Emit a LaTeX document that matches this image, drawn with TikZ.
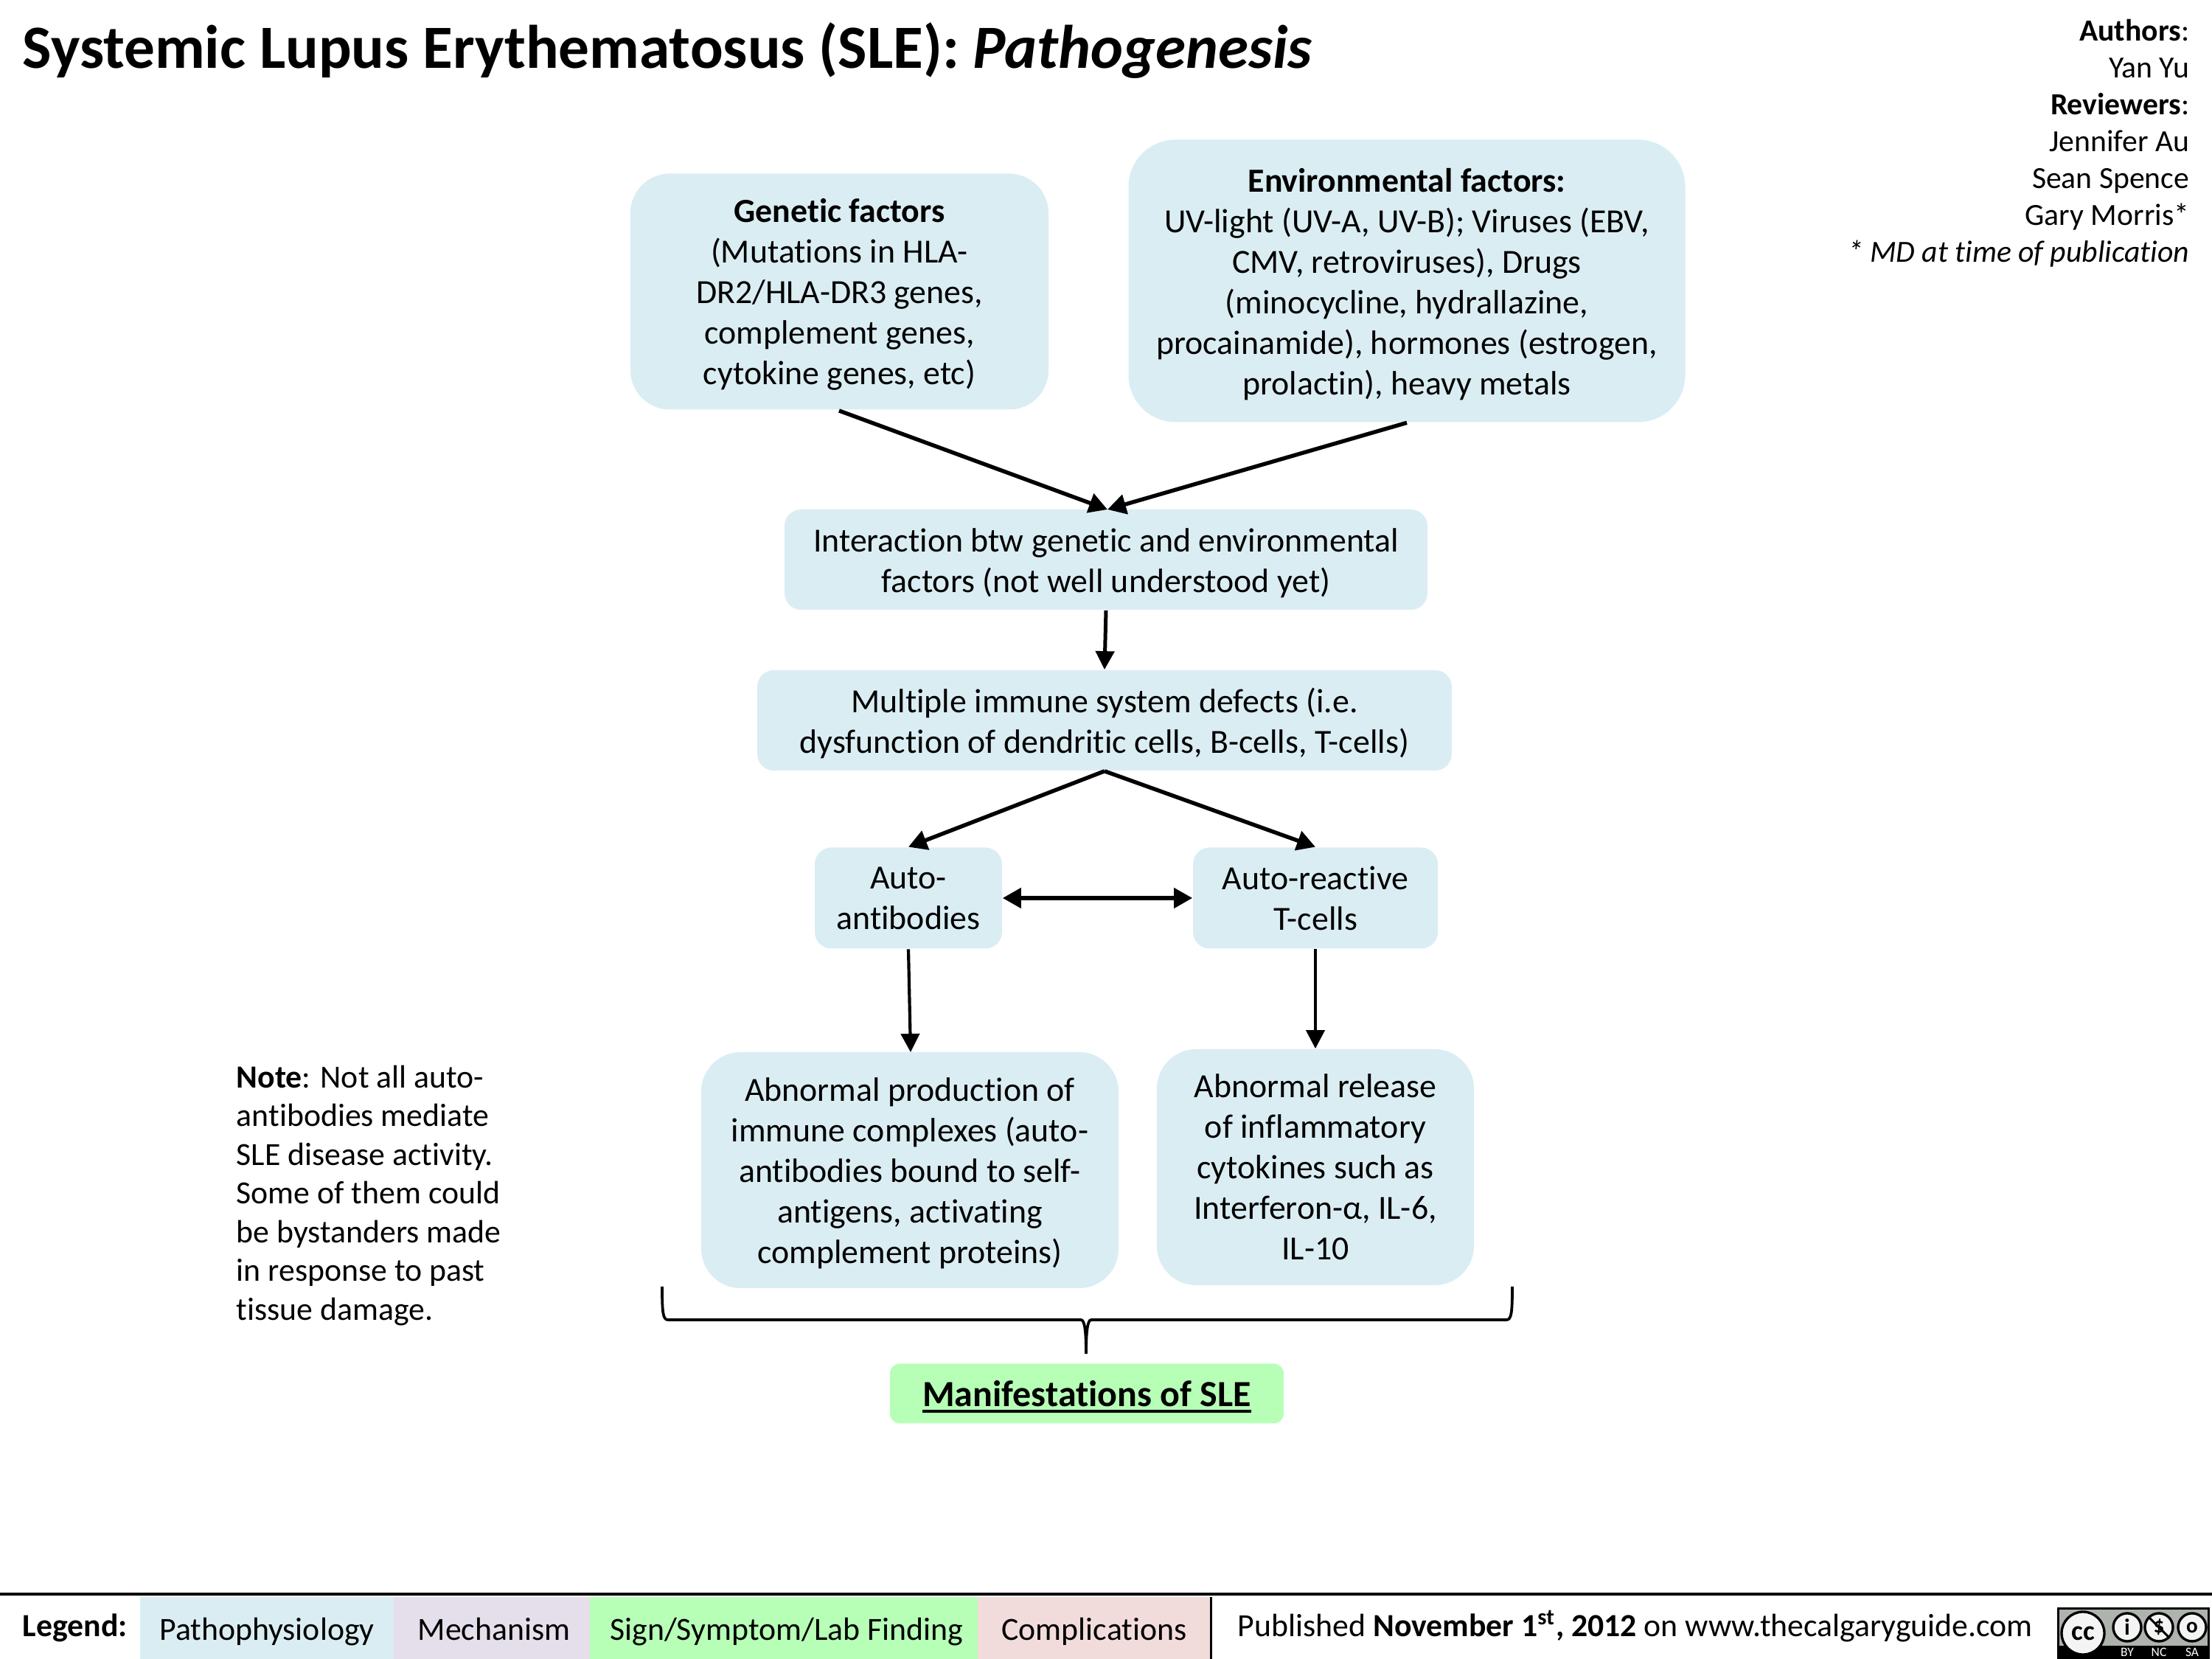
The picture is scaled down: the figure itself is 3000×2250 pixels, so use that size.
\documentclass[tikz,border=0pt]{standalone}
\usepackage{fontspec}
\setmainfont{Carlito}[Ligatures=NoCommon]
\usetikzlibrary{arrows.meta}
\definecolor{pathoc}{HTML}{DAEDF3}
\definecolor{mechc}{HTML}{E5DFEC}
\definecolor{signc}{HTML}{B7FFB6}
\definecolor{compc}{HTML}{F2DCDB}
\definecolor{badgec}{HTML}{AEB3AD}
\newcommand\ulbox[1]{\leavevmode\vtop{\hbox{#1}\kern0.9pt\hrule height 1pt}}
\newcommand\dn{\rule{0pt}{9.8pt}}
\tikzset{
  flowbox/.style={fill=pathoc,inner sep=0pt,align=center,font=\fontsize{11}{13.2}\selectfont},
  big/.style={rounded corners=12.8pt},
  bigger/.style={rounded corners=15.3pt},
  small/.style={rounded corners=5.4pt},
  flow/.style={draw=black,line width=1.3pt,-{Triangle[length=6pt,width=6.4pt]}},
  thinflow/.style={draw=black,line width=1pt,-{Triangle[length=6pt,width=6pt]}},
  legcell/.style={inner sep=0pt,minimum height=0.24*84pt,text height=9.5pt,text depth=1.8pt,font=\fontsize{10.5}{13}\selectfont},
  badgecirc/.style={draw=black,line width=0.8pt,fill=white!85!badgec},
  badgetext/.style={text=white,inner sep=0pt,font=\fontsize{4.2}{5}\selectfont},
}
\begin{document}
\begin{tikzpicture}[x=0.24pt,y=-0.24pt]
\useasboundingbox (0,0) rectangle (3000,2250);
\fill[white] (0,0) rectangle (3000,2250);
% title
\node[anchor=base west,inner sep=0pt,font=\fontsize{20}{24}\selectfont\bfseries] (title) at (30,93)
  {Systemic Lupus Erythematosus (SLE): \textit{Pathogenesis}};
\node[anchor=north east,inner sep=0pt,align=right,font=\fontsize{10}{12}\selectfont] (authors) at (2970,25)
  {\textbf{Authors}:\\Yan Yu\\\textbf{Reviewers}:\\Jennifer Au\\Sean Spence\\Gary Morris*\\\textit{* MD at time of publication}};
% boxes
\node[flowbox,big,minimum width=0.24*567pt,minimum height=0.24*320pt] (gen) at (1138.5,395.5)
  {\dn\textbf{Genetic factors}\\(Mutations in HLA-\\DR2/HLA-DR3 genes,\\complement genes,\\cytokine genes, etc)};
\node[flowbox,bigger,minimum width=0.24*755pt,minimum height=0.24*383pt] (env) at (1908,381)
  {\dn\textbf{Environmental factors:}\\UV-light (UV-A, UV-B); Viruses (EBV,\\CMV, retroviruses), Drugs\\(minocycline, hydrallazine,\\procainamide), hormones (estrogen,\\prolactin), heavy metals};
\node[flowbox,small,minimum width=0.24*872pt,minimum height=0.24*136pt] (inter) at (1500,759)
  {\dn Interaction btw genetic and environmental\\factors (not well understood yet)};
\node[flowbox,small,minimum width=0.24*942pt,minimum height=0.24*136pt] (multi) at (1498,977)
  {\dn Multiple immune system defects (i.e.\\dysfunction of dendritic cells, B-cells, T-cells)};
\node[flowbox,small,minimum width=0.24*254pt,minimum height=0.24*137pt] (anti) at (1232,1218)
  {Auto-\\antibodies};
\node[flowbox,small,minimum width=0.24*332pt,minimum height=0.24*137pt] (tcell) at (1784,1218)
  {Auto-reactive\\T-cells};
\node[flowbox,big,minimum width=0.24*566pt,minimum height=0.24*320pt] (prod) at (1234,1587)
  {\dn Abnormal production of\\immune complexes (auto-\\antibodies bound to self-\\antigens, activating\\complement proteins)};
\node[flowbox,big,minimum width=0.24*430pt,minimum height=0.24*320pt] (rel) at (1784,1583)
  {Abnormal release\\of inflammatory\\cytokines such as\\Interferon-α, IL-6,\\IL-10};
\node[flowbox,fill=signc,rounded corners=3.2pt,minimum width=0.24*534pt,minimum height=0.24*81pt,font=\fontsize{12}{14}\selectfont\bfseries] (sle) at (1474,1890)
  {\rule{0pt}{10.6pt}\ulbox{Manifestations of SLE}};
% note
\node[anchor=north west,inner sep=0pt,align=left,font=\fontsize{10.5}{12.6}\selectfont] (note) at (320,1444)
  {\textbf{Note}: Not all auto-\\antibodies mediate\\SLE disease activity.\\Some of them could\\be bystanders made\\in response to past\\tissue damage.};
% connectors
\coordinate (join) at (1502,691);
\coordinate (genout) at (1138,557);
\draw[flow] (genout) -- (join);
\draw[flow] (env.south) -- (join);
\draw[thinflow,line width=1.2pt] (inter.south) -- (multi.north);
\draw[flow] (multi.south) -- (anti.north);
\draw[flow] (multi.south) -- (tcell.north);
\draw[flow,{Triangle[length=6pt,width=6.4pt]}-{Triangle[length=6pt,width=6.4pt]}] (anti.east) -- (tcell.west);
\coordinate (prodin) at (1235,1427);
\draw[thinflow] (anti.south) -- (prodin);
\draw[thinflow] (tcell.south) -- (rel.north);
% brace
\coordinate (bl) at (898,1745);
\coordinate (br) at (2051,1745);
\coordinate (btip) at (1473,1836);
\draw[black,line width=0.9pt] (bl) .. controls (898,1780) and (899,1790) .. (906,1790)
  -- (1466,1790) .. controls (1471,1790) and (1473,1805) .. (btip)
  .. controls (1473,1805) and (1475,1790) .. (1480,1790)
  -- (2043,1790) .. controls (2050,1790) and (2051,1780) .. (br);
% legend
\fill[black] (0,2160) rectangle (3000,2164.5);
\node[anchor=base west,inner sep=0pt,font=\fontsize{10.5}{13}\selectfont\bfseries] (leg) at (30,2220) {Legend:};
\node[legcell,fill=pathoc,minimum width=0.24*344pt] (l1) at (362,2208) {Pathophysiology};
\node[legcell,fill=mechc,minimum width=0.24*266pt] (l2) at (667,2208) {\hspace{1.5pt}Mechanism};
\node[legcell,fill=signc,minimum width=0.24*526pt] (l3) at (1063,2208) {\hspace{1.8pt}Sign/Symptom/Lab Finding};
\node[legcell,fill=compc,minimum width=0.24*316pt] (l4) at (1484,2208) {Complications};
\fill[black] (1641,2166) rectangle (1644,2250);
\node[anchor=base west,inner sep=0pt,font=\fontsize{10.5}{13}\selectfont] (pub) at (1678,2220)
  {Published \textbf{November 1\textsuperscript{st}, 2012} on www.thecalgaryguide.com};
% badge
\fill[black] (2790,2180) rectangle (2997,2250);
\fill[badgec] (2793,2183) rectangle (2994,2232);
\node[badgecirc,circle,minimum size=0.24*58pt,inner sep=0pt,font=\fontsize{9}{9}\selectfont\bfseries] (cc) at (2825,2215) {cc};
\node[badgecirc,circle,minimum size=0.24*38pt,inner sep=0pt,font=\fontsize{7.5}{8}\selectfont\bfseries] (by) at (2885,2207) {i};
\node[badgecirc,circle,minimum size=0.24*38pt,inner sep=0pt,font=\fontsize{7}{8}\selectfont\bfseries] (nc) at (2928,2207) {\$};
\node[badgecirc,circle,minimum size=0.24*38pt,inner sep=0pt,font=\fontsize{7}{8}\selectfont\bfseries] (sa) at (2973,2207) {o};
\draw[black,line width=0.7pt] (nc.north west) -- (nc.south east);
\node[badgetext] (byt) at (2885,2241) {BY};
\node[badgetext] (nct) at (2928,2241) {NC};
\node[badgetext] (sat) at (2973,2241) {SA};
\end{tikzpicture}
\end{document}
